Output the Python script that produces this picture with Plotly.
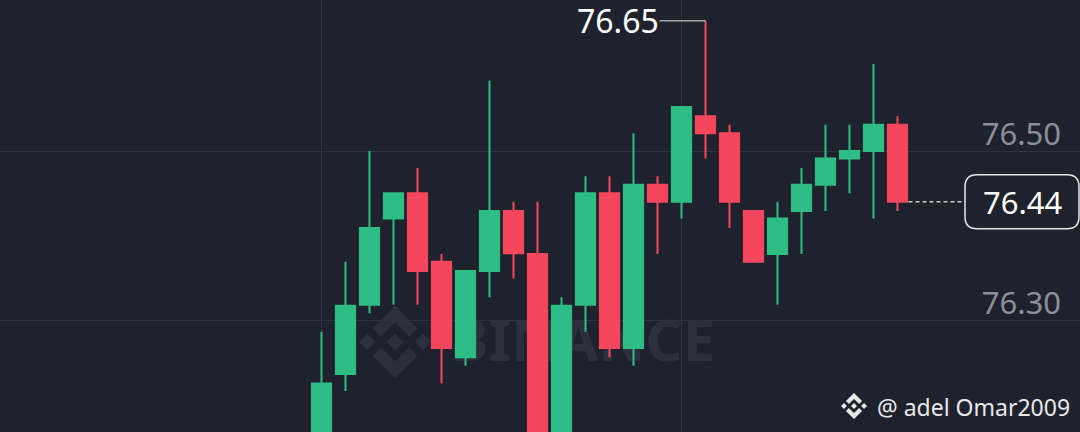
import plotly.graph_objects as go

# ---- data ----
opens  = [76.150, 76.236, 76.318, 76.420, 76.450, 76.369, 76.256, 76.358, 76.429, 76.378,
          76.130, 76.318, 76.450, 76.267, 76.460, 76.440, 76.541, 76.521, 76.429, 76.378,
          76.429, 76.460, 76.491, 76.500, 76.531]
highs  = [76.286, 76.369, 76.500, 76.450, 76.480, 76.378, 76.358, 76.583, 76.440, 76.440,
          76.327, 76.470, 76.470, 76.521, 76.470, 76.552, 76.654, 76.531, 76.429, 76.440,
          76.480, 76.531, 76.531, 76.603, 76.541]
lows   = [76.130, 76.216, 76.308, 76.318, 76.318, 76.225, 76.246, 76.327, 76.349, 76.100,
          76.110, 76.286, 76.256, 76.246, 76.378, 76.420, 76.491, 76.409, 76.369, 76.318,
          76.378, 76.429, 76.450, 76.420, 76.429]
closes = [76.225, 76.317, 76.409, 76.450, 76.358, 76.267, 76.358, 76.429, 76.379, 76.120,
          76.317, 76.450, 76.267, 76.460, 76.440, 76.552, 76.521, 76.440, 76.369, 76.420,
          76.460, 76.491, 76.500, 76.531, 76.440]
xs = list(range(len(opens)))
y_ticks = [76.10, 76.30, 76.50, 76.70]
y_tick_labels = ["76.10", "76.30", "76.50", "76.70"]
x_grid = [0, 15]
watermark = "BINANCE"
credit = "@ adel Omar2009"

BG = "#1e222d"
GRID = "#2f333e"
GREEN = "#2ebd85"
RED = "#f6465d"

W, H = 1080, 432
bar_px = 24.0
first_px = 321.5
x_range = [-first_px / bar_px, (W - first_px) / bar_px]
px_per_unit = 845.0
y_top = 76.50 + 151 / px_per_unit
y_bot = 76.50 - (H - 151) / px_per_unit

fig = go.Figure()
fig.add_trace(go.Candlestick(
    x=xs, open=opens, high=highs, low=lows, close=closes,
    increasing=dict(line=dict(color=GREEN, width=2), fillcolor=GREEN),
    decreasing=dict(line=dict(color=RED, width=2), fillcolor=RED),
    whiskerwidth=0, hoverinfo="skip", showlegend=False,
))


def logo_paths(s):
    """Binance logo polygons in pixel offsets, half-size s."""
    def poly(pts):
        return "M " + " L ".join(f"{x*s:.2f},{y*s:.2f}" for x, y in pts) + " Z"
    top = [(-0.392, 0.152), (0, 0.544), (0.392, 0.152), (0.620, 0.380), (0, 1.0), (-0.620, 0.380)]
    bot = [(x, -y) for x, y in top]
    d = 0.228
    left = [(-0.772 - d, 0), (-0.772, d), (-0.772 + d, 0), (-0.772, -d)]
    right = [(0.772 - d, 0), (0.772, d), (0.772 + d, 0), (0.772, -d)]
    c = 0.231
    center = [(-c, 0), (0, c), (c, 0), (0, -c)]
    return [poly(p) for p in (top, bot, left, right, center)]


shapes = []
# big watermark logo (below traces)
for p in logo_paths(36):
    shapes.append(dict(type="path", path=p, xref="paper", yref="paper",
                       xsizemode="pixel", ysizemode="pixel",
                       xanchor=395 / W, yanchor=1 - 342 / H,
                       fillcolor="#2c303b", line=dict(width=0), layer="below"))
# watermark text
shapes.append(dict(type="rect", xref="paper", yref="paper",
                   x0=440 / W, x1=725 / W, y0=1 - 372 / H, y1=1 - 312 / H,
                   line=dict(width=0), fillcolor="rgba(0,0,0,0)", layer="below",
                   label=dict(text=watermark, textposition="middle center",
                              font=dict(family="Noto Sans", size=58, color="#2c303b", weight=700))))
# small credit logo
for p in logo_paths(13):
    shapes.append(dict(type="path", path=p, xref="paper", yref="paper",
                       xsizemode="pixel", ysizemode="pixel",
                       xanchor=854 / W, yanchor=1 - 406 / H,
                       fillcolor="#e8e8e8", line=dict(width=0), layer="above"))

last = len(closes) - 1
last_close = closes[last]
# dashed line from last candle to price box
shapes.append(dict(type="line", xref="x", yref="y", xsizemode="pixel",
                   xanchor=last, x0=11, x1=68, y0=last_close, y1=last_close,
                   line=dict(color="#c9cbd0", width=1.5, dash="4px,3px"), layer="above"))
# rounded price box
bw0, bw1, bh, r = -115, -1, 27, 12
box = (f"M {bw0+r},{-bh} L {bw1-r},{-bh} Q {bw1},{-bh} {bw1},{-bh+r} "
       f"L {bw1},{bh-r} Q {bw1},{bh} {bw1-r},{bh} L {bw0+r},{bh} "
       f"Q {bw0},{bh} {bw0},{bh-r} L {bw0},{-bh+r} Q {bw0},{-bh} {bw0+r},{-bh} Z")
shapes.append(dict(type="path", path=box, xref="paper", yref="y",
                   xsizemode="pixel", ysizemode="pixel", xanchor=1, yanchor=last_close,
                   fillcolor=BG, line=dict(color="#e6e6e6", width=1.5), layer="above"))

hi_idx = max(range(len(highs)), key=lambda i: highs[i])
annotations = [
    dict(x=hi_idx, y=highs[hi_idx], xref="x", yref="y", text=f"{highs[hi_idx]:.2f}",
         showarrow=True, arrowhead=0, arrowwidth=1, arrowcolor="#e6e6e6",
         ax=-46, ay=0, xanchor="right", yanchor="middle", standoff=0,
         font=dict(family="Noto Sans", size=32, color="#ffffff"), borderpad=0),
    dict(x=1, y=last_close, xref="paper", yref="y", text=f"{last_close:.2f}",
         showarrow=False, xanchor="right", yanchor="middle", xshift=-15,
         font=dict(family="Noto Sans", size=31, color="#ffffff")),
    dict(x=1, y=1 - 407 / H, xref="paper", yref="paper", text=credit,
         showarrow=False, xanchor="right", yanchor="middle", xshift=-8,
         font=dict(family="Noto Sans", size=23, color="#e8e8e8")),
]

fig.update_layout(
    width=W, height=H,
    margin=dict(l=0, r=0, t=0, b=0),
    paper_bgcolor=BG, plot_bgcolor=BG,
    boxgap=0.2, boxgroupgap=0,
    shapes=shapes, annotations=annotations,
    xaxis=dict(range=x_range, tickvals=x_grid, showgrid=True, gridcolor=GRID, gridwidth=1,
               showticklabels=False, ticks="", zeroline=False, showline=False,
               rangeslider=dict(visible=False), fixedrange=True),
    yaxis=dict(range=[y_bot, y_top], side="right", tickvals=y_ticks, ticktext=y_tick_labels,
               showgrid=True, gridcolor=GRID, gridwidth=1, zeroline=False, showline=False,
               ticks="", ticklabelposition="inside", ticklabelshift=-17, ticklabelstandoff=16,
               tickfont=dict(family="Noto Sans", size=31, color="#8b8f98"),
               automargin=False, fixedrange=True),
    showlegend=False,
)

fig.write_html("out.html", config={"displayModeBar": False},
               post_script="document.body.style.margin='0';document.body.style.background='#1e222d';")
